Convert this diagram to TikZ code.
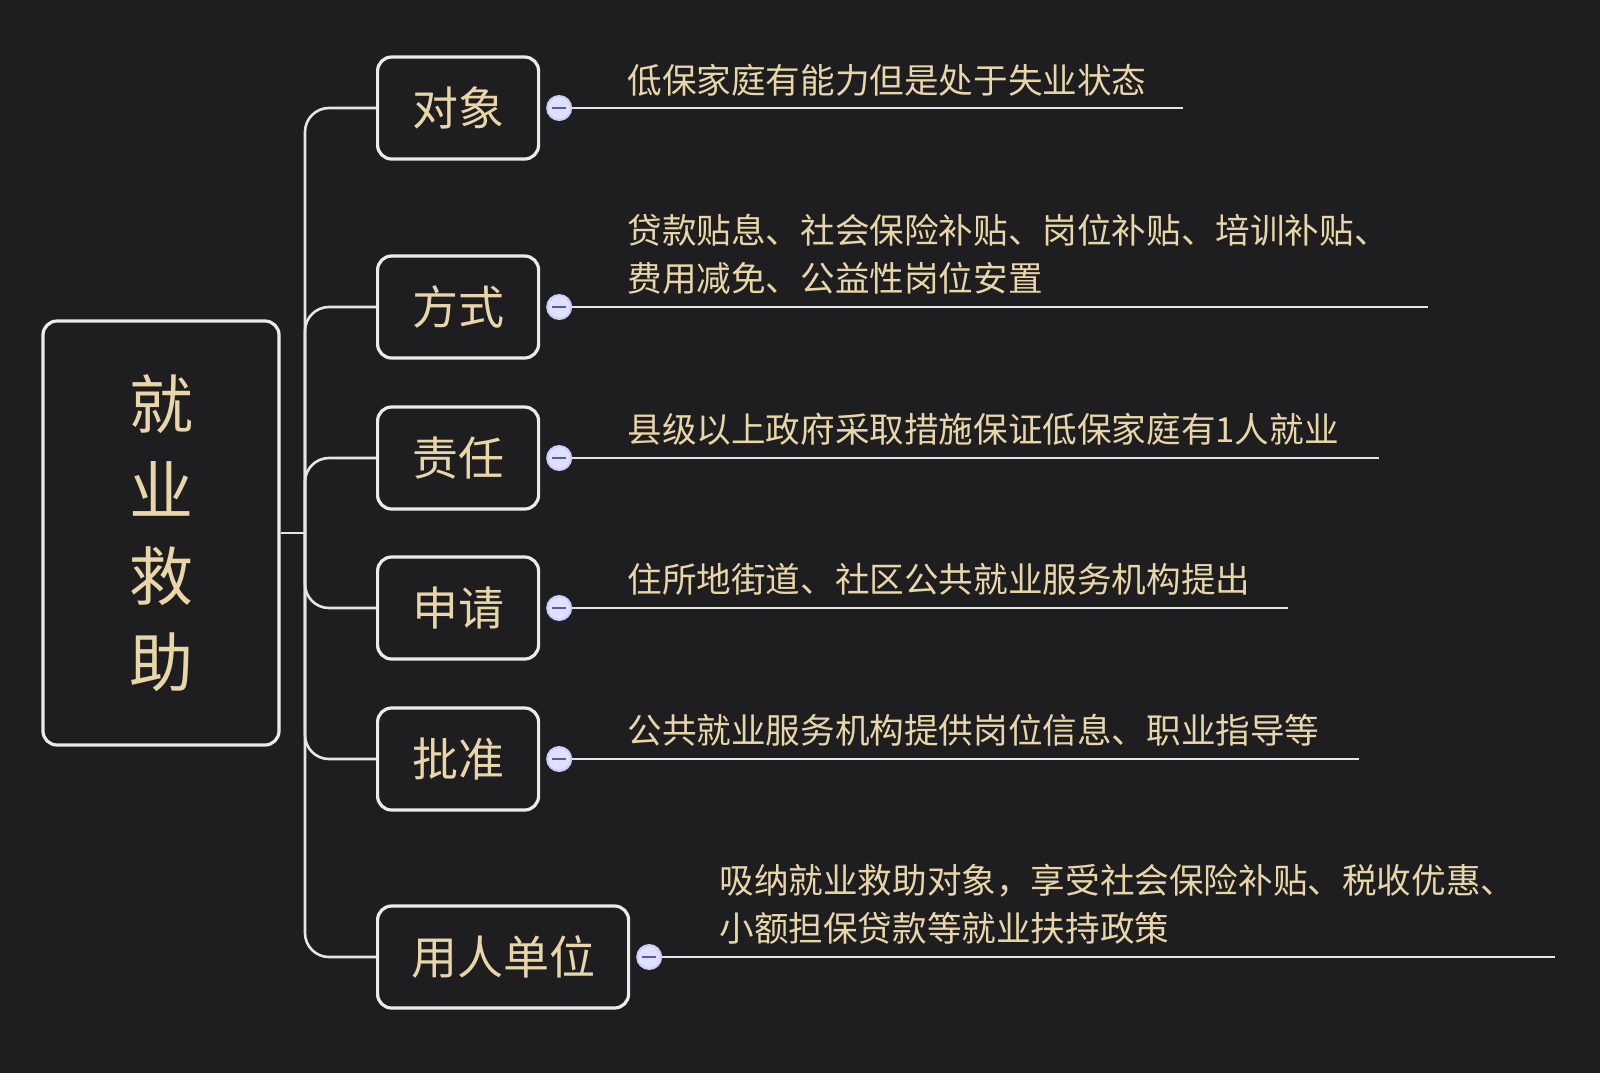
\documentclass[tikz,border=0pt]{standalone}
\usepackage{fontspec}
\newfontfamily\cjk{Noto Sans CJK SC}
\begin{document}
\begin{tikzpicture}[x=0.5pt,y=-0.5pt,
  bx/.style={draw=white!92!black,line width=1.6pt,rounded corners=7pt,fill=bg,inner sep=0pt},
  lbl/.style={text=gold,font=\cjk\fontsize{23}{26}\selectfont},
  det/.style={text=gold,font=\cjk\fontsize{17.3}{24}\selectfont,anchor=south west,align=left,inner sep=0pt},
  ln/.style={draw=white!90!black,line width=1.3pt},
  tog/.style={circle,draw=white!80!blue,line width=1pt,fill=white!88!blue,minimum size=12pt,inner sep=0pt}]
\definecolor{bg}{HTML}{1E1E20}
\definecolor{gold}{HTML}{E8D6A8}
\fill[bg] (0,0) rectangle (1600,1073);
\useasboundingbox (0,0) rectangle (1600,1073);
\node[bx,minimum width=118pt,minimum height=212pt] (root) at (161,533) {};
\node[text=gold,font=\cjk\fontsize{32}{43}\selectfont,align=center] (rt) at (161,533) {就\\业\\救\\助};
\coordinate (sp) at (305,533);
\draw[ln] (root.east) -- (sp);
\foreach \n/\t/\y/\w/\e in {a/对象/108/80.5/1183, b/方式/307/80.5/1428, c/责任/458/80.5/1379, d/申请/608/80.5/1288, e/批准/759/80.5/1359, f/用人单位/957/125.5/1555}{
  \node[bx,minimum width=\w pt,minimum height=51pt,anchor=west,lbl] (\n) at (376,\y) {\t};
  \draw[ln,rounded corners=12pt] (sp) |- (\n.west);
  \node[tog,anchor=west] (\n t) at ([xshift=3pt]\n.east) {};
  \draw[ln] (\n t.east) -- (\e,\y) coordinate (\n e);
  \draw[draw=gray!70!blue,line width=1.2pt] ([xshift=-3.5pt]\n t.center) -- ([xshift=3.5pt]\n t.center);
}
\node[det] (ta) at (627,97) {低保家庭有能力但是处于失业状态};
\node[det] (tb) at (627,295) {贷款贴息、社会保险补贴、岗位补贴、培训补贴、\\费用减免、公益性岗位安置};
\node[det] (tc) at (627,446) {县级以上政府采取措施保证低保家庭有1人就业};
\node[det] (td) at (627,596) {住所地街道、社区公共就业服务机构提出};
\node[det] (te) at (627,747) {公共就业服务机构提供岗位信息、职业指导等};
\node[det] (tf) at (719,945) {吸纳就业救助对象，享受社会保险补贴、税收优惠、\\小额担保贷款等就业扶持政策};
\end{tikzpicture}
\end{document}
